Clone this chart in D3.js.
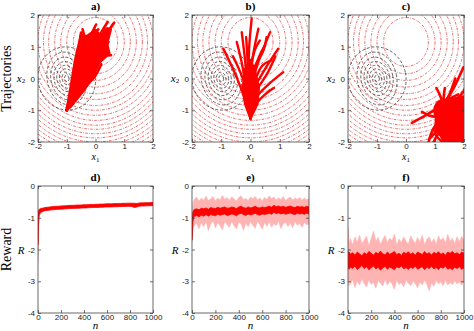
<!DOCTYPE html>
<html><head><meta charset="utf-8">
<script src="https://cdn.jsdelivr.net/npm/d3@7"></script>
<style>body{margin:0;background:#fff}svg{display:block}</style>
</head><body>
<svg id="c" width="474" height="331"></svg>
<script>
// ---------- DATA ----------
const panelTitles = ["a)","b)","c)","d)","e)","f)"];
const trajTicks = [-2,-1,0,1,2];
const nTicks = [0,200,400,600,800,1000];
const rTicks = [0,-1,-2,-3,-4];

// red (dash-dot) contour radii, centred on (0, 1.15)
const redCenter = [0, 1.15];
const redRadii = [0.77,1.0,1.21,1.42,1.63,1.81,2.0,2.15,2.31,2.47,2.62,2.75,2.89,3.02,3.15,3.28,3.4,3.52,3.64,3.76];
// black dashed contours, centred on (-1, 0)
const blackCenter = [-1, 0];
const blackRx = [1.0,0.68,0.55,0.44,0.34,0.25,0.16,0.08];
const blackRy = [1.0,0.84,0.68,0.54,0.42,0.31,0.2,0.1];

// trajectories (x1, x2)
const trajA = [
 [[-1,-1],[-0.85,-0.2],[-0.7,0.6],[-0.55,1.2],[-0.5,1.45]],
 [[-1,-1],[-0.8,-0.1],[-0.6,0.7],[-0.4,1.3],[-0.45,1.55]],
 [[-1,-1],[-0.75,-0.1],[-0.5,0.7],[-0.2,1.3],[0.02,1.7]],
 [[-1,-1],[-0.7,-0.05],[-0.4,0.8],[-0.1,1.35],[0.1,1.55]],
 [[-1,-1],[-0.6,0],[-0.3,0.7],[0.1,1.3],[0.42,1.78]],
 [[-1,-1],[-0.55,0],[-0.2,0.75],[0.25,1.25],[0.3,1.6]],
 [[-1,-1],[-0.5,0],[-0.1,0.7],[0.3,1.3],[0.65,1.76]],
 [[-1,-1],[-0.45,-0.1],[0,0.5],[0.35,1.0],[0.45,1.15]],
 [[-1,-1],[-0.45,-0.1],[0,0.45],[0.3,0.7],[0.54,0.73]],
 [[-1,-1],[-0.4,-0.3],[0,0.1],[0.2,0.45]],
 [[-1,-1],[-0.7,-0.5],[-0.3,-0.2],[0,0.1]]
];
const coreA = [[-1,-1],[-0.85,-0.3],[-0.68,0.6],[-0.52,1.4],[-0.3,1.35],[0,1.55],[0.2,1.35],[0.4,1.6],[0.55,1.55],[0.42,1.1],[0.5,0.78],[0.15,0.5],[-0.1,0.0],[-0.45,-0.45],[-0.85,-0.9]];

const trajB = [
 [[0,-1.25],[-0.25,-0.5],[-0.55,0.2],[-0.75,0.6],[-0.93,0.94]],
 [[0,-1.25],[-0.15,-0.3],[-0.3,0.5],[-0.47,1.15]],
 [[0,-1.25],[-0.1,-0.2],[-0.2,0.7],[-0.3,1.46]],
 [[0,-1.25],[-0.08,0.1],[-0.12,0.9],[-0.15,1.3]],
 [[0,-1.25],[-0.05,-0.1],[-0.05,0.9],[0.04,1.88]],
 [[0,-1.25],[-0.02,0.2],[0.15,0.9],[0.32,1.2]],
 [[0,-1.25],[0,0],[0.1,0.8],[0.27,1.57]],
 [[0,-1.25],[0.05,0],[0.3,0.7],[0.5,1.05]],
 [[0,-1.25],[0.05,-0.2],[0.3,0.6],[0.67,1.46]],
 [[0,-1.25],[0.03,0.1],[0.45,0.9],[0.55,1.3]],
 [[0,-1.25],[0.1,-0.3],[0.4,0.4],[0.72,0.57]],
 [[0,-1.25],[0.1,-0.4],[0.5,0.3],[0.95,0.94]],
 [[0,-1.25],[0.15,-0.5],[0.6,0.2],[0.85,0.7]],
 [[0,-1.25],[0.2,-0.6],[0.6,-0.2],[1.12,0.2]],
 [[0,-1.25],[0.2,-0.8],[0.5,-0.5],[0.8,-0.3]],
 [[0,-1.25],[-0.12,-0.4],[-0.35,0.2],[-0.6,0.7]]
];
const coreB = [[0,-1.3],[-0.2,-0.8],[-0.28,-0.3],[-0.2,0.3],[0,0.6],[0.15,0.3],[0.3,-0.3],[0.25,-0.8]];

const trajC = [
 [[0.2,-1.4],[0.6,-1.2],[1.0,-1.0],[1.5,-0.9],[1.9,-1.2],[1.6,-1.6],[1.1,-1.4],[1.3,-0.8],[1.8,-0.5]],
 [[1.98,0.35],[1.7,-0.2],[1.4,-0.7],[1.1,-1.2],[1.2,-1.8],[1.6,-1.9],[1.9,-1.5],[1.5,-1.1],[1.0,-0.9]],
 [[1.34,-0.3],[1.3,-0.8],[1.5,-1.3],[1.9,-1.8],[2.0,-1.0],[1.6,-0.8],[1.2,-1.5],[0.8,-1.9]],
 [[0.55,-1.05],[1.0,-1.2],[1.5,-1.0],[2.1,-0.7],[1.7,-1.4],[1.3,-1.3],[1.0,-1.7],[1.4,-2.1]],
 [[1.7,0],[1.5,-0.5],[1.2,-1.0],[1.3,-1.4],[1.8,-1.7],[2.1,-1.3]],
 [[2.1,-0.2],[1.8,-0.6],[1.1,-0.75],[1.0,-1.1],[1.4,-1.6],[2.0,-2.1]],
 [[0.9,-2.1],[1.2,-1.6],[1.6,-1.2],[2.1,-1.6]],
 [[0.75,-2.1],[1.0,-1.5],[1.4,-1.25],[1.2,-0.6],[1.05,-0.3]]
];
const coreC = [[1.05,-0.8],[1.5,-0.65],[2,-0.55],[2,-2],[1.3,-2],[1.0,-1.5]];

// reward curves
const nGrid = [0,4,8,12,20,40,60,80,100,120,140,160,180,200,220,240,260,280,300,320,340,360,380,400,420,440,460,480,500,520,540,560,580,600,620,640,660,680,700,720,740,760,780,800,820,840,860,880,900,920,940,960,980,1000];

const dDarkHi = [-0.80,-0.78,-0.76,-0.74,-0.72,-0.70,-0.68,-0.67,-0.66,-0.65,
 -0.645,-0.64,-0.635,-0.63,-0.625,-0.62,-0.615,-0.61,-0.61,-0.605,
 -0.60,-0.60,-0.595,-0.59,-0.59,-0.585,-0.58,-0.58,-0.575,-0.575,
 -0.57,-0.57,-0.565,-0.56,-0.56,-0.56,-0.555,-0.555,-0.55,-0.55,
 -0.545,-0.545,-0.54,-0.54,-0.54,-0.545,-0.55,-0.535,-0.53,-0.53,
 -0.525,-0.525,-0.52,-0.52];
const dDarkLo = [-1.85,-1.30,-1.00,-0.90,-0.84,-0.80,-0.78,-0.77,-0.76,-0.75,
 -0.745,-0.74,-0.735,-0.73,-0.725,-0.72,-0.715,-0.71,-0.71,-0.705,
 -0.70,-0.70,-0.695,-0.69,-0.69,-0.685,-0.68,-0.68,-0.675,-0.675,
 -0.67,-0.67,-0.665,-0.66,-0.66,-0.66,-0.655,-0.655,-0.65,-0.65,
 -0.645,-0.645,-0.64,-0.64,-0.65,-0.68,-0.66,-0.635,-0.63,-0.63,
 -0.625,-0.625,-0.62,-0.62];
const dPaleN = [0,4,8,12,20,40];
const dPaleHi = [-0.75,-0.74,-0.72,-0.71,-0.70,-0.69];
const dPaleLo = [-2.4,-1.7,-1.2,-0.95,-0.88,-0.82];

const eDarkHi = [-1.00,-0.90,-0.82,-0.78,-0.74,-0.72,-0.75,-0.70,-0.72,-0.69,
 -0.73,-0.68,-0.70,-0.71,-0.67,-0.70,-0.68,-0.66,-0.70,-0.69,
 -0.66,-0.68,-0.71,-0.66,-0.64,-0.68,-0.70,-0.66,-0.69,-0.67,
 -0.64,-0.68,-0.69,-0.66,-0.68,-0.66,-0.64,-0.67,-0.61,-0.65,
 -0.63,-0.66,-0.64,-0.67,-0.65,-0.63,-0.66,-0.68,-0.64,-0.66,
 -0.65,-0.67,-0.64,-0.66];
const eDarkLo = [-1.70,-1.45,-1.15,-1.02,-0.96,-0.93,-0.97,-0.92,-0.95,-0.90,
 -0.95,-0.90,-0.92,-0.94,-0.89,-0.92,-0.90,-0.88,-0.93,-0.91,
 -0.88,-0.90,-0.94,-0.88,-0.86,-0.90,-0.93,-0.88,-0.91,-0.89,
 -0.86,-0.90,-0.92,-0.88,-0.90,-0.88,-0.86,-0.89,-0.83,-0.87,
 -0.85,-0.88,-0.86,-0.89,-0.87,-0.85,-0.88,-0.90,-0.86,-0.88,
 -0.87,-0.89,-0.86,-0.88];
const ePaleHi = [-1.00,-0.80,-0.60,-0.50,-0.42,-0.35,-0.48,-0.38,-0.45,-0.32,
 -0.46,-0.40,-0.33,-0.47,-0.38,-0.44,-0.30,-0.42,-0.36,-0.45,
 -0.34,-0.41,-0.47,-0.36,-0.31,-0.43,-0.39,-0.46,-0.35,-0.40,
 -0.33,-0.44,-0.38,-0.47,-0.36,-0.42,-0.31,-0.40,-0.35,-0.45,
 -0.37,-0.43,-0.33,-0.46,-0.39,-0.35,-0.44,-0.38,-0.42,-0.36,
 -0.45,-0.38,-0.43,-0.40];
const ePaleLo = [-1.75,-1.60,-1.45,-1.30,-1.25,-1.18,-1.35,-1.15,-1.28,-1.12,
 -1.40,-1.20,-1.10,-1.32,-1.15,-1.25,-1.38,-1.12,-1.22,-1.30,
 -1.10,-1.26,-1.35,-1.14,-1.20,-1.40,-1.16,-1.28,-1.12,-1.24,
 -1.33,-1.10,-1.22,-1.36,-1.15,-1.27,-1.12,-1.30,-1.18,-1.25,
 -1.10,-1.34,-1.20,-1.14,-1.28,-1.16,-1.32,-1.12,-1.24,-1.18,
 -1.30,-1.15,-1.22,-1.20];

const fDarkHi = [-2.05,-2.10,-2.12,-2.08,-2.15,-2.10,-2.18,-2.08,-2.14,-2.20,
 -2.10,-2.16,-2.06,-2.12,-2.18,-2.09,-2.14,-2.05,-2.13,-2.17,
 -2.08,-2.15,-2.11,-2.06,-2.16,-2.12,-2.19,-2.09,-2.13,-2.07,
 -2.15,-2.10,-2.18,-2.08,-2.12,-2.16,-2.06,-2.14,-2.10,-2.17,
 -2.09,-2.13,-2.07,-2.15,-2.11,-2.18,-2.08,-2.12,-2.06,-2.14,
 -2.10,-2.16,-2.08,-2.12];
const fDarkLo = [-2.55,-2.60,-2.58,-2.62,-2.55,-2.60,-2.52,-2.63,-2.57,-2.50,
 -2.60,-2.54,-2.64,-2.57,-2.52,-2.61,-2.56,-2.65,-2.58,-2.53,
 -2.62,-2.55,-2.59,-2.64,-2.54,-2.58,-2.51,-2.61,-2.57,-2.63,
 -2.55,-2.60,-2.52,-2.62,-2.58,-2.54,-2.64,-2.56,-2.60,-2.53,
 -2.61,-2.57,-2.63,-2.55,-2.59,-2.52,-2.62,-2.58,-2.64,-2.56,
 -2.60,-2.54,-2.62,-2.58];
const fPaleHi = [-1.30,-1.50,-1.70,-1.80,-1.65,-1.85,-1.60,-1.78,-1.55,-1.82,
 -1.70,-1.58,-1.88,-1.66,-1.42,-1.75,-1.62,-1.84,-1.68,-1.56,
 -1.80,-1.64,-1.72,-1.52,-1.86,-1.67,-1.78,-1.60,-1.74,-1.83,
 -1.58,-1.70,-1.81,-1.62,-1.76,-1.55,-1.85,-1.68,-1.60,-1.79,
 -1.66,-1.84,-1.57,-1.72,-1.63,-1.80,-1.52,-1.74,-1.65,-1.82,
 -1.60,-1.76,-1.58,-1.70];
const fPaleLo = [-2.95,-3.05,-3.15,-2.98,-3.10,-2.95,-3.20,-3.00,-3.12,-2.92,
 -3.08,-3.18,-2.96,-3.10,-3.02,-3.22,-2.98,-3.06,-3.15,-2.94,
 -3.12,-3.00,-3.08,-3.25,-2.97,-3.10,-3.04,-3.18,-2.95,-3.06,
 -3.14,-2.99,-3.08,-3.20,-3.02,-3.12,-2.96,-3.10,-3.30,-3.05,
 -3.16,-2.98,-3.08,-3.02,-3.14,-2.96,-3.12,-3.04,-3.10,-2.98,
 -3.08,-3.02,-3.12,-3.00];

// ---------- LAYOUT ----------
const cols = [{l:38,r:153},{l:192,r:309},{l:348,r:464}];
const rowTop = {t:15,b:142}, rowBot = {t:186,b:313};
const RED = "#ff0000", PALE = "#ffb4b4";
const SERIF = "'Liberation Serif','Times New Roman',serif";
const svg = d3.select("#c");
const defs = svg.append("defs");

function frame(g, x, y, xt, yt, box){
  const tickFont = "'Liberation Sans', Arial, sans-serif";
  const ax = (gen, tr) => {
    const a = g.append("g").attr("transform", tr).call(gen);
    a.select(".domain").remove();
    a.selectAll("line").attr("stroke","#333").attr("stroke-width",0.7);
    a.selectAll("text").attr("font-size",8).attr("font-family",tickFont).attr("fill","#222");
    return a;
  };
  const f = d => String(d);
  ax(d3.axisBottom(x).tickValues(xt).tickSizeInner(-3).tickSizeOuter(0).tickPadding(1).tickFormat(f), `translate(0,${box.b})`);
  ax(d3.axisLeft(y).tickValues(yt).tickSizeInner(-3).tickSizeOuter(0).tickPadding(3).tickFormat(f), `translate(${box.l},0)`);
  ax(d3.axisTop(x).tickValues(xt).tickSizeInner(-3).tickSizeOuter(0).tickFormat(() => ""), `translate(0,${box.t})`);
  ax(d3.axisRight(y).tickValues(yt).tickSizeInner(-3).tickSizeOuter(0).tickFormat(() => ""), `translate(${box.r},0)`);
  g.append("rect").attr("x",box.l).attr("y",box.t).attr("width",box.r-box.l).attr("height",box.b-box.t)
    .attr("fill","none").attr("stroke","#444").attr("stroke-width",0.8);
}

function clipFor(box, id){
  defs.append("clipPath").attr("id",id).append("rect")
    .attr("x",box.l).attr("y",box.t).attr("width",box.r-box.l).attr("height",box.b-box.t);
  return `url(#${id})`;
}

function title(txt, box){
  svg.append("text").attr("x",(box.l+box.r)/2).attr("y",box.t-5).attr("text-anchor","middle")
    .attr("font-family",SERIF).attr("font-size",11)
    .attr("font-weight","bold").text(txt);
}

const trajSets = [[trajA,coreA],[trajB,coreB],[trajC,coreC]];
cols.forEach((c,i) => {
  const box = {l:c.l, r:c.r, t:rowTop.t, b:rowTop.b};
  const x = d3.scaleLinear().domain([-2,2]).range([box.l, box.r]);
  const y = d3.scaleLinear().domain([-2,2]).range([box.b, box.t]);
  const g = svg.append("g");
  const inner = g.append("g").attr("clip-path", clipFor(box, "clipT"+i));
  inner.selectAll("ellipse.red").data(redRadii).join("ellipse")
    .attr("cx", x(redCenter[0])).attr("cy", y(redCenter[1]))
    .attr("rx", r => x(redCenter[0]+r)-x(redCenter[0]))
    .attr("ry", r => y(redCenter[1])-y(redCenter[1]+r))
    .attr("fill","none").attr("stroke","#e03a3a").attr("stroke-width",0.75)
    .attr("stroke-dasharray","2.6,1.2,0.8,1.2");
  inner.selectAll("ellipse.blk").data(blackRx).join("ellipse")
    .attr("cx", x(blackCenter[0])).attr("cy", y(blackCenter[1]))
    .attr("rx", r => x(blackCenter[0]+r)-x(blackCenter[0]))
    .attr("ry", (r,k) => y(blackCenter[1])-y(blackCenter[1]+blackRy[k]))
    .attr("transform", `rotate(-12,${x(blackCenter[0])},${y(blackCenter[1])})`)
    .attr("fill","none").attr("stroke","#333").attr("stroke-width",0.7)
    .attr("stroke-dasharray","3,1.8");
  const [tr, core] = trajSets[i];
  const line = d3.line().x(d => x(d[0])).y(d => y(d[1])).curve(d3.curveCatmullRom.alpha(0.5));
  inner.append("path").datum(core)
    .attr("d", d3.line().x(d => x(d[0])).y(d => y(d[1])).curve(d3.curveLinearClosed))
    .attr("fill",RED).attr("stroke",RED).attr("stroke-width",1.5).attr("stroke-linejoin","round");
  inner.selectAll("path.tr").data(tr).join("path").attr("class","tr")
    .attr("d", line).attr("fill","none").attr("stroke",RED)
    .attr("stroke-width", i===1 ? 2.4 : 2.6).attr("stroke-linejoin","round").attr("stroke-linecap","round");
  frame(g, x, y, trajTicks, trajTicks, box);
  title(panelTitles[i], box);
  const xl = svg.append("text").attr("x",(box.l+box.r)/2).attr("y",box.b+18).attr("text-anchor","middle")
    .attr("font-family",SERIF).attr("font-size",10).attr("font-style","italic");
  xl.append("tspan").text("x");
  xl.append("tspan").attr("font-size",7).attr("font-style","normal").attr("dy",1.5).text("1");
  const yl = svg.append("text").attr("x",box.l-17).attr("y",y(0)+3).attr("text-anchor","middle")
    .attr("font-family",SERIF).attr("font-size",11).attr("font-style","italic");
  yl.append("tspan").text("x");
  yl.append("tspan").attr("font-size",7).attr("font-style","normal").attr("dy",1.5).text("2");
});

const rewardSets = [
  {pn:dPaleN, ph:dPaleHi, pl:dPaleLo, dh:dDarkHi, dl:dDarkLo},
  {pn:nGrid, ph:ePaleHi, pl:ePaleLo, dh:eDarkHi, dl:eDarkLo},
  {pn:nGrid, ph:fPaleHi, pl:fPaleLo, dh:fDarkHi, dl:fDarkLo}
];
cols.forEach((c,i) => {
  const box = {l:c.l, r:c.r, t:rowBot.t, b:rowBot.b};
  const x = d3.scaleLinear().domain([0,1000]).range([box.l, box.r]);
  const y = d3.scaleLinear().domain([-4,0]).range([box.b, box.t]);
  const g = svg.append("g");
  const inner = g.append("g").attr("clip-path", clipFor(box, "clipB"+i));
  const s = rewardSets[i];
  const area = d3.area().x(k => x(k.n)).y0(k => y(k.lo)).y1(k => y(k.hi));
  const pale = s.pn.map((n,k) => ({n, hi:s.ph[k], lo:s.pl[k]}));
  const dark = nGrid.map((n,k) => ({n, hi:s.dh[k], lo:s.dl[k]}));
  inner.append("path").datum(pale).attr("d", area).attr("fill",PALE).attr("stroke",PALE).attr("stroke-width",0.6);
  inner.append("path").datum(dark).attr("d", area).attr("fill",RED).attr("stroke",RED).attr("stroke-width",0.8);
  frame(g, x, y, nTicks, rTicks, box);
  title(panelTitles[i+3], box);
  svg.append("text").attr("x",(box.l+box.r)/2).attr("y",box.b+16).attr("text-anchor","middle")
    .attr("font-family",SERIF).attr("font-size",11).attr("font-style","italic").text("n");
  svg.append("text").attr("x",box.l-17).attr("y",y(-2)+4).attr("text-anchor","middle")
    .attr("font-family",SERIF).attr("font-size",11).attr("font-style","italic").text("R");
});

svg.append("text").attr("transform",`translate(11,${(rowTop.t+rowTop.b)/2}) rotate(-90)`).attr("text-anchor","middle")
  .attr("font-family",SERIF).attr("font-size",14).text("Trajectories");
svg.append("text").attr("transform",`translate(11,${(rowBot.t+rowBot.b)/2}) rotate(-90)`).attr("text-anchor","middle")
  .attr("font-family",SERIF).attr("font-size",14).text("Reward");
</script>
</body></html>
